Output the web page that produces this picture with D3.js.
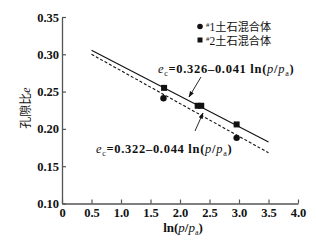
<!DOCTYPE html>
<html>
<head>
<meta charset="utf-8">
<script src="https://cdn.jsdelivr.net/npm/d3@7"></script>
<style>
  body { margin: 0; background: #fff; }
  text { font-family: "Liberation Serif", "Noto Sans CJK SC", serif; }
</style>
</head>
<body>
<svg id="chart" width="316" height="241"></svg>
<script>
// data
const xTicks = [0, 0.5, 1.0, 1.5, 2.0, 2.5, 3.0, 3.5, 4.0];
const yTicks = [0.10, 0.15, 0.20, 0.25, 0.30, 0.35];
const soil1 = [[1.72, 0.241], [2.96, 0.188]];
const soil2 = [[1.73, 0.255], [2.30, 0.231], [2.36, 0.231], [2.96, 0.206]];
const fit1 = [0.322, 0.044];   // dashed, #1
const fit2 = [0.326, 0.041];   // solid, #2
const fitRange = [0.5, 3.5];
const legendNames = ["1土石混合体", "2土石混合体"];

const svg = d3.select("#chart");
const x = d3.scaleLinear().domain([0, 4]).range([62, 298]);
const y = d3.scaleLinear().domain([0.10, 0.35]).range([203.5, 17]);
const axisColor = "#555";

// eixos
const gx = svg.append("g")
  .attr("transform", `translate(0, ${y(0.10)})`)
  .call(d3.axisBottom(x).tickValues(xTicks).tickSizeInner(-4).tickSizeOuter(0).tickPadding(5)
    .tickFormat(d => d === 0 ? "0" : d3.format(".1f")(d)));
const gy = svg.append("g")
  .attr("transform", `translate(${x(0)}, 0)`)
  .call(d3.axisLeft(y).tickValues(yTicks).tickSizeInner(-4).tickSizeOuter(0).tickPadding(3)
    .tickFormat(d3.format(".2f")));
[gx, gy].forEach(g => {
  g.select(".domain").attr("stroke", axisColor).attr("stroke-width", 1.3);
  g.selectAll(".tick line").attr("stroke", axisColor).attr("stroke-width", 1.2);
  g.selectAll(".tick text").attr("font-size", 12.5).attr("fill", "#111")
    .attr("font-family", "Liberation Serif").attr("font-weight", "bold");
});

// linhas de ajuste
const line = d3.line().x(d => x(d[0])).y(d => y(d[1]));
const fitPts = f => fitRange.map(v => [v, f[0] - f[1] * v]);
svg.append("path").datum(fitPts(fit2)).attr("d", line)
  .attr("fill", "none").attr("stroke", "#111").attr("stroke-width", 1.1);
svg.append("path").datum(fitPts(fit1)).attr("d", line)
  .attr("fill", "none").attr("stroke", "#111").attr("stroke-width", 1.1)
  .attr("stroke-dasharray", "3,2");

// pontos
svg.selectAll(".c1").data(soil1).enter().append("circle")
  .attr("cx", d => x(d[0])).attr("cy", d => y(d[1])).attr("r", 3.2).attr("fill", "#111");
svg.selectAll(".s2").data(soil2).enter().append("rect")
  .attr("x", d => x(d[0]) - 3).attr("y", d => y(d[1]) - 3)
  .attr("width", 6).attr("height", 6).attr("fill", "#111");

// legenda
const leg = svg.append("g");
legendNames.forEach((name, i) => {
  const yy = 26.5 + i * 13.5;
  if (i === 0) leg.append("circle").attr("cx", 200).attr("cy", yy).attr("r", 2.8).attr("fill", "#111");
  else leg.append("rect").attr("x", 197.5).attr("y", yy - 2.5).attr("width", 5).attr("height", 5).attr("fill", "#111");
  const t = leg.append("text").attr("x", 206).attr("y", yy + 4.5).attr("font-size", 11.5).attr("fill", "#111");
  t.append("tspan").attr("font-size", 7).attr("dy", -4).text("#");
  t.append("tspan").attr("dy", 4).attr("font-family", "Liberation Serif").text(name[0]);
  t.append("tspan").attr("font-family", "Noto Sans CJK SC").attr("font-size", 11.2).text(name.slice(1));
});

// anotações
function label(xp, yp, a, b) {
  const t = svg.append("text").attr("x", xp).attr("y", yp).attr("font-size", 12.5)
    .attr("letter-spacing", 0.7).attr("fill", "#111");
  t.append("tspan").attr("font-style", "italic").text("e");
  t.append("tspan").attr("font-size", 8).attr("dy", 3).text("c");
  t.append("tspan").attr("dy", -3).attr("font-weight", "bold").text(`=${a}\u2013${b} ln(`);
  t.append("tspan").attr("font-style", "italic").text("p");
  t.append("tspan").attr("font-weight", "bold").text("/");
  t.append("tspan").attr("font-style", "italic").text("p");
  t.append("tspan").attr("font-size", 8).attr("dy", 3).text("a");
  t.append("tspan").attr("dy", -3).attr("font-weight", "bold").text(")");
}
label(158, 73, "0.326", "0.041");
label(96, 153, "0.322", "0.044");

svg.append("defs").append("marker").attr("id", "arr").attr("viewBox", "0 0 10 10")
  .attr("refX", 9).attr("refY", 5).attr("markerWidth", 7).attr("markerHeight", 7)
  .attr("orient", "auto").append("path").attr("d", "M0,1.5L10,5L0,8.5Z").attr("fill", "#111");
svg.append("line").attr("x1", 201).attr("y1", 77).attr("x2", 189).attr("y2", 97)
  .attr("stroke", "#111").attr("stroke-width", 0.9).attr("marker-end", "url(#arr)");
svg.append("line").attr("x1", 195).attr("y1", 131).attr("x2", 203).attr("y2", 113)
  .attr("stroke", "#111").attr("stroke-width", 0.9).attr("marker-end", "url(#arr)");

// títulos dos eixos
const xl = svg.append("text").attr("x", 183).attr("y", 232).attr("text-anchor", "middle")
  .attr("font-size", 13).attr("fill", "#111");
xl.append("tspan").attr("font-weight", "bold").text("ln(");
xl.append("tspan").attr("font-style", "italic").text("p");
xl.append("tspan").attr("font-weight", "bold").text("/");
xl.append("tspan").attr("font-style", "italic").text("p");
xl.append("tspan").attr("font-size", 8).attr("dy", 3).text("a");
xl.append("tspan").attr("dy", -3).attr("font-weight", "bold").text(")");

const yl = svg.append("text").attr("transform", "translate(30, 108) rotate(-90)")
  .attr("text-anchor", "middle").attr("font-size", 12).attr("fill", "#111");
yl.append("tspan").attr("font-family", "Noto Sans CJK SC").text("孔隙比");
yl.append("tspan").attr("font-style", "italic").attr("font-family", "Liberation Serif").text("e");
</script>
</body>
</html>
